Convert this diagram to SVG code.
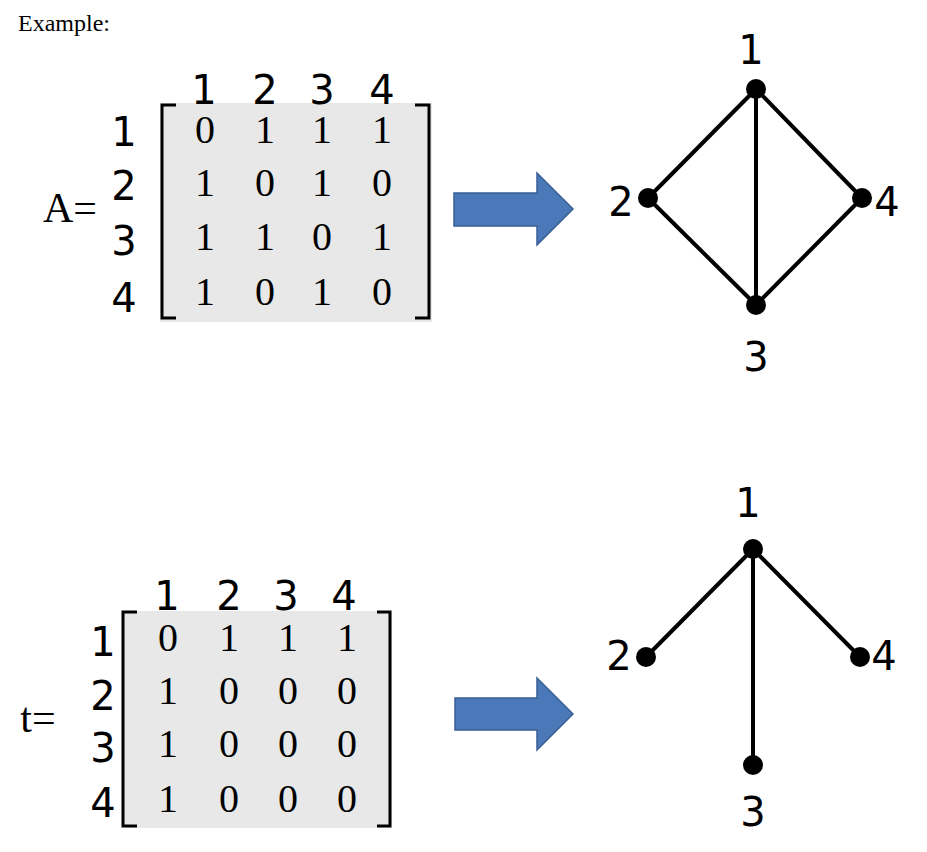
<svg xmlns="http://www.w3.org/2000/svg" width="927" height="852" viewBox="0 0 927 852">
<style>
.s{font-family:"DejaVu Sans",sans-serif;font-size:40px;fill:#000;text-anchor:middle;dominant-baseline:central}
.m{font-family:"Liberation Serif",serif;font-size:40px;fill:#000;text-anchor:middle;dominant-baseline:central}
.br{fill:none;stroke:#000;stroke-width:3}
.e{stroke:#000;stroke-width:4}
.n{fill:#000}
.ar{fill:#4a78b8;stroke:#3a5f94;stroke-width:1.5}
</style>
<rect width="927" height="852" fill="#fff"/>
<text x="18" y="31" font-family="Liberation Serif,serif" font-size="24">Example:</text>
<g id="matrixA">
<rect x="160" y="103" width="272" height="219" fill="#e8e8e8"/>
<path class="br" d="M176 105H162V318H176M415 105H429V318H415"/>
<text x="70" y="208" class="m" style="font-size:42px">A=</text>
<text x="204" y="90" class="s">1</text><text x="265" y="90" class="s">2</text><text x="322" y="90" class="s">3</text><text x="382" y="90" class="s">4</text>
<text x="124" y="132" class="s">1</text><text x="124" y="186" class="s">2</text><text x="124" y="241" class="s">3</text><text x="124" y="298" class="s">4</text>
<text x="205" y="129" class="m">0</text><text x="265" y="129" class="m">1</text><text x="322" y="129" class="m">1</text><text x="382" y="129" class="m">1</text>
<text x="205" y="182" class="m">1</text><text x="265" y="182" class="m">0</text><text x="322" y="182" class="m">1</text><text x="382" y="182" class="m">0</text>
<text x="205" y="236" class="m">1</text><text x="265" y="236" class="m">1</text><text x="322" y="236" class="m">0</text><text x="382" y="236" class="m">1</text>
<text x="205" y="291" class="m">1</text><text x="265" y="291" class="m">0</text><text x="322" y="291" class="m">1</text><text x="382" y="291" class="m">0</text>
</g>
<g id="arrow1"><path class="ar" d="M454 193H537V173L573 209L537 245V226H454Z"/></g>
<g id="matrixT">
<rect x="124" y="611" width="268" height="217" fill="#e8e8e8"/>
<path class="br" d="M137 612H123V826H137M377 612H390V826H377"/>
<text x="38" y="718" class="m" style="font-size:42px">t=</text>
<text x="167" y="596" class="s">1</text><text x="229" y="596" class="s">2</text><text x="286" y="596" class="s">3</text><text x="344" y="596" class="s">4</text>
<text x="103" y="642" class="s">1</text><text x="103" y="696" class="s">2</text><text x="103" y="748" class="s">3</text><text x="103" y="803" class="s">4</text>
<text x="168" y="637" class="m">0</text><text x="229" y="637" class="m">1</text><text x="288" y="637" class="m">1</text><text x="347" y="637" class="m">1</text>
<text x="168" y="690" class="m">1</text><text x="229" y="690" class="m">0</text><text x="288" y="690" class="m">0</text><text x="347" y="690" class="m">0</text>
<text x="168" y="743" class="m">1</text><text x="229" y="743" class="m">0</text><text x="288" y="743" class="m">0</text><text x="347" y="743" class="m">0</text>
<text x="168" y="798" class="m">1</text><text x="229" y="798" class="m">0</text><text x="288" y="798" class="m">0</text><text x="347" y="798" class="m">0</text>
</g>
<g id="arrow2"><path class="ar" d="M455 698H537V678L573 714L537 750V730H455Z"/></g>
<g id="connectors">
<line class="e" x1="756" y1="89" x2="648" y2="198"/><line class="e" x1="756" y1="89" x2="862" y2="198"/><line class="e" x1="756" y1="89" x2="756" y2="305"/><line class="e" x1="648" y1="198" x2="756" y2="305"/><line class="e" x1="862" y1="198" x2="756" y2="305"/>
<line class="e" x1="753" y1="549" x2="646" y2="657"/><line class="e" x1="753" y1="549" x2="860" y2="657"/><line class="e" x1="753" y1="549" x2="753" y2="765"/>
</g>
<g id="g1n1"><circle class="n" cx="756" cy="89" r="10"/><text x="751" y="50" class="s">1</text></g>
<g id="g1n2"><circle class="n" cx="648" cy="198" r="10"/><text x="621" y="202" class="s">2</text></g>
<g id="g1n4"><circle class="n" cx="862" cy="198" r="10"/><text x="887" y="202" class="s">4</text></g>
<g id="g1n3"><circle class="n" cx="756" cy="305" r="10"/><text x="756" y="357" class="s">3</text></g>
<g id="g2n1"><circle class="n" cx="753" cy="549" r="10"/><text x="748" y="503" class="s">1</text></g>
<g id="g2n2"><circle class="n" cx="646" cy="657" r="10"/><text x="619" y="656" class="s">2</text></g>
<g id="g2n4"><circle class="n" cx="860" cy="657" r="10"/><text x="884" y="656" class="s">4</text></g>
<g id="g2n3"><circle class="n" cx="753" cy="765" r="10"/><text x="753" y="812" class="s">3</text></g>
</svg>
